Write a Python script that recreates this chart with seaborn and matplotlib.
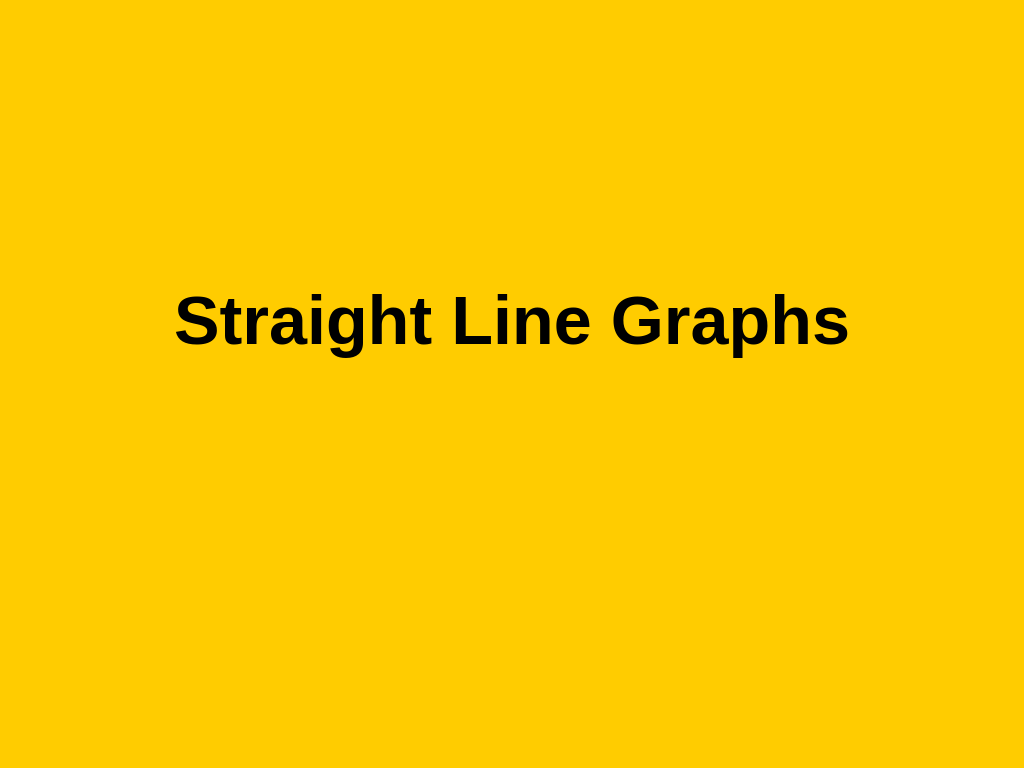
import matplotlib
matplotlib.use("Agg")
import matplotlib.pyplot as plt
import seaborn as sns

title_text = "Straight Line Graphs"
background = "#FFCC00"

sns.set_theme(style="white")
plt.rcParams['font.family'] = ['Liberation Sans', 'DejaVu Sans']

fig = plt.figure(figsize=(10.24, 7.68), dpi=100, facecolor=background)
ax = fig.add_axes([0, 0, 1, 1])
ax.set_facecolor(background)
ax.set_axis_off()
ax.set_xlim(0, 1)
ax.set_ylim(0, 1)
fig.text(511.5 / 1024, 1 - 344 / 768, title_text, ha="center", va="baseline",
         fontsize=49.2, fontweight="bold", color="black")
fig.savefig("out.png", dpi=100, facecolor=background)
